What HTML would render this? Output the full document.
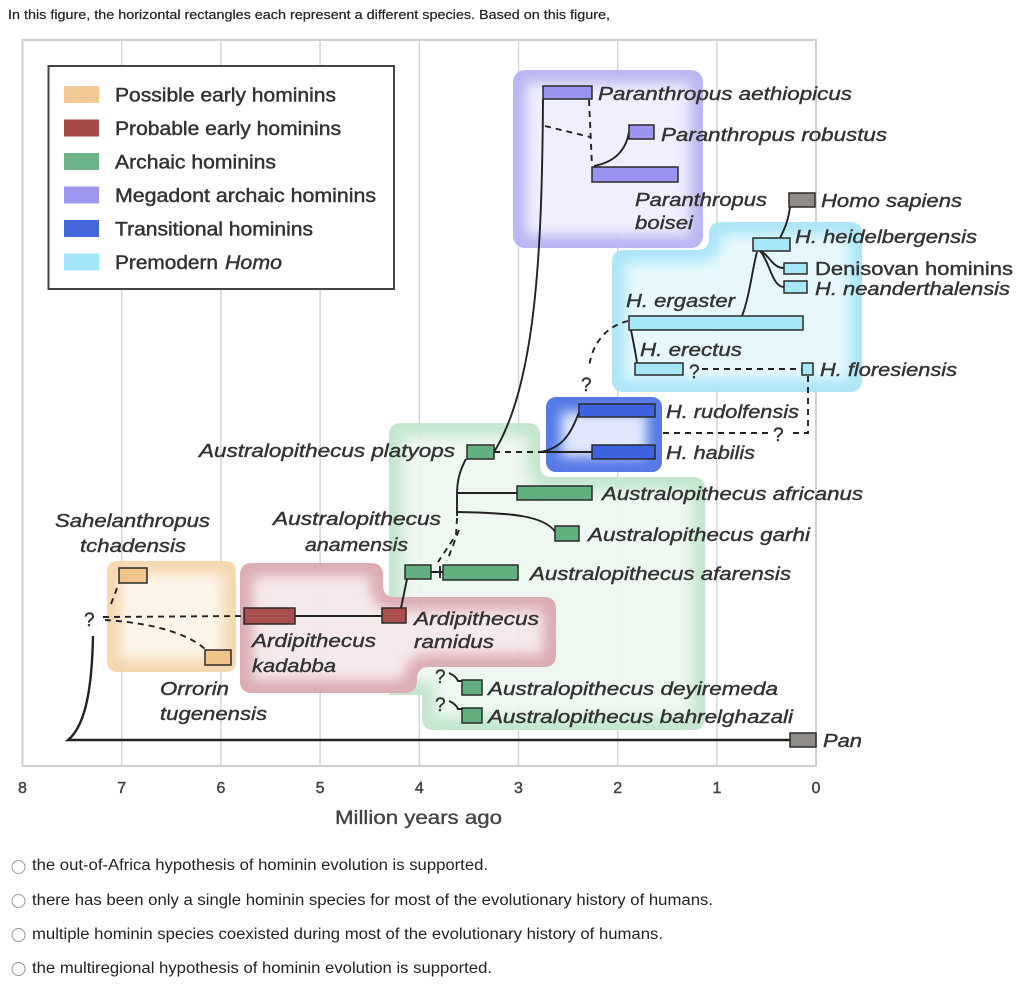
<!DOCTYPE html>
<html><head><meta charset="utf-8"><style>
html,body{margin:0;padding:0;background:#fff;}
svg{display:block;}
text{font-family:"Liberation Sans",Arial,sans-serif;}
</style></head><body>
<svg width="1024" height="985" viewBox="0 0 1024 985" xmlns="http://www.w3.org/2000/svg">
<defs>
<filter id="b" x="-30%" y="-30%" width="160%" height="160%"><feGaussianBlur stdDeviation="6"/></filter>
<clipPath id="cPu"><rect x="513" y="70" width="190" height="178" rx="12"/></clipPath>
<clipPath id="cCy"><path d="M721,222 L850,222 Q862,222 862,234 L862,380 Q862,392 850,392 L624,392 Q612,392 612,380 L612,262 Q612,250 624,250 L697,250 Q709,250 709,238 L709,234 Q709,222 721,222 Z"/></clipPath>
<clipPath id="cGr"><path d="M401,423 L528,423 Q540,423 540,435 L540,465 Q540,477 552,477 L693,477 Q705,477 705,489 L705,718 Q705,730 693,730 L434,730 Q422,730 422,718 L422,695 L389,695 L389,435 Q389,423 401,423 Z"/></clipPath>
<clipPath id="cRe"><path d="M252,563 L371,563 Q383,563 383,575 L383,585 Q383,597 395,597 L544,597 Q556,597 556,609 L556,655 Q556,667 544,667 L429,667 Q417,667 417,679 L417,681 Q417,693 405,693 L252,693 Q240,693 240,681 L240,575 Q240,563 252,563 Z"/></clipPath>
<clipPath id="cOr"><rect x="107" y="561" width="129" height="111" rx="10"/></clipPath>
<clipPath id="cBl"><rect x="546" y="397" width="116" height="75" rx="10"/></clipPath>
</defs>

<!-- title -->
<text x="8" y="19" font-size="13" fill="#222" stroke="#222" stroke-width="0.2" textLength="602" lengthAdjust="spacingAndGlyphs">In this figure, the horizontal rectangles each represent a different species.  Based on this figure,</text>

<!-- grid frame -->
<g stroke="#d6d6d6" stroke-width="1.5" fill="none">
<line x1="121.7" y1="40" x2="121.7" y2="766"/>
<line x1="220.9" y1="40" x2="220.9" y2="766"/>
<line x1="320.1" y1="40" x2="320.1" y2="766"/>
<line x1="419.3" y1="40" x2="419.3" y2="766"/>
<line x1="518.5" y1="40" x2="518.5" y2="766"/>
<line x1="617.7" y1="40" x2="617.7" y2="766"/>
<line x1="716.9" y1="40" x2="716.9" y2="766"/>
</g>
<rect x="22.5" y="40" width="793.5" height="726" fill="none" stroke="#cfcfcf" stroke-width="2"/>

<!-- legend -->
<rect x="48.5" y="66" width="345.5" height="223" fill="#fff" stroke="#444" stroke-width="2"/>
<rect x="64" y="86" width="35" height="17" fill="#f2c995"/>
<rect x="64" y="119.5" width="35" height="17" fill="#a64a4a"/>
<rect x="64" y="153" width="35" height="17" fill="#6cb487"/>
<rect x="64" y="186.5" width="35" height="17" fill="#9d97f0"/>
<rect x="64" y="220" width="35" height="17" fill="#4466dd"/>
<rect x="64" y="253.5" width="35" height="17" fill="#a3e6fa"/>
<g font-size="19" fill="#333" stroke="#333" stroke-width="0.45">
<text x="115" y="101.5" textLength="221" lengthAdjust="spacingAndGlyphs">Possible early hominins</text>
<text x="115" y="135" textLength="226" lengthAdjust="spacingAndGlyphs">Probable early hominins</text>
<text x="115" y="168.5" textLength="161" lengthAdjust="spacingAndGlyphs">Archaic hominins</text>
<text x="115" y="202" textLength="261" lengthAdjust="spacingAndGlyphs">Megadont archaic hominins</text>
<text x="115" y="235.5" textLength="198" lengthAdjust="spacingAndGlyphs">Transitional hominins</text>
<text x="115" y="269" textLength="103" lengthAdjust="spacingAndGlyphs">Premodern</text>
<text x="225" y="269" font-style="italic" textLength="57" lengthAdjust="spacingAndGlyphs">Homo</text>
</g>

<!-- group boxes -->
<g opacity="0.93">
<g clip-path="url(#cPu)"><rect x="513" y="70" width="190" height="178" fill="#efeefd"/><rect x="513" y="70" width="190" height="178" rx="12" fill="none" stroke="#b5b0f2" stroke-width="26" filter="url(#b)"/></g>
<g clip-path="url(#cCy)"><rect x="600" y="210" width="280" height="200" fill="#e6f8fd"/><path d="M721,222 L850,222 Q862,222 862,234 L862,380 Q862,392 850,392 L624,392 Q612,392 612,380 L612,262 Q612,250 624,250 L697,250 Q709,250 709,238 L709,234 Q709,222 721,222 Z" fill="none" stroke="#a6e5f8" stroke-width="26" filter="url(#b)"/></g>
<g clip-path="url(#cGr)"><rect x="380" y="410" width="340" height="330" fill="#edf8f0"/><path d="M401,423 L528,423 Q540,423 540,435 L540,465 Q540,477 552,477 L693,477 Q705,477 705,489 L705,718 Q705,730 693,730 L434,730 Q422,730 422,718 L422,695 L389,695 L389,435 Q389,423 401,423 Z" fill="none" stroke="#c0e5cb" stroke-width="26" filter="url(#b)"/></g>
<g clip-path="url(#cRe)"><rect x="230" y="550" width="340" height="160" fill="#f6e8ea"/><path d="M252,563 L371,563 Q383,563 383,575 L383,585 Q383,597 395,597 L544,597 Q556,597 556,609 L556,655 Q556,667 544,667 L429,667 Q417,667 417,679 L417,681 Q417,693 405,693 L252,693 Q240,693 240,681 L240,575 Q240,563 252,563 Z" fill="none" stroke="#d9a6ae" stroke-width="26" filter="url(#b)"/></g>
<g clip-path="url(#cOr)"><rect x="107" y="561" width="129" height="111" fill="#fdf4e8"/><rect x="107" y="561" width="129" height="111" rx="10" fill="none" stroke="#f4d5aa" stroke-width="26" filter="url(#b)"/></g>
<g clip-path="url(#cBl)"><rect x="546" y="397" width="116" height="75" fill="#dfe7fc"/><rect x="546" y="397" width="116" height="75" rx="10" fill="none" stroke="#4a70e5" stroke-width="30" filter="url(#b)"/></g>
</g>

<!-- connecting lines -->
<g fill="none" stroke="#222" stroke-width="1.9">
<path d="M543,99 C542,250 536,385 494,452"/>
<path d="M594,166 C615,162 626,150 629,132"/>
<path d="M466,459 C460,470 457,480 457,495 L457,516"/>
<path d="M457,493 L517,493"/>
<path d="M457,512 C510,513 545,515 556,533"/>
<path d="M540,452 L592,452"/>
<path d="M540,452 C565,448 572,430 580,410"/>
<path d="M431,572 L443,572 M440,566 L440,578"/>
<path d="M401,608 L407,579"/>
<path d="M295,616 L382,616"/>
<path d="M93,636 C92,690 85,726 68,740 L790,740" stroke-width="2.4"/>
<path d="M449,673 Q456,676 458,681 L462,681"/>
<path d="M449,701 Q456,704 458,709 L462,709"/>
<path d="M742,316 C750,295 752,270 757,252"/>
<path d="M760,251 C770,255 772,268 784,268"/>
<path d="M760,251 C770,262 772,287 784,287"/>
<path d="M790,207 C788,222 784,230 780,238"/>
<path d="M631,330 C634,345 636,355 637,363"/>
</g>
<g fill="none" stroke="#222" stroke-width="1.9" stroke-dasharray="6,5">
<path d="M545,126 L590,137"/>
<path d="M589,100 L592,166"/>
<path d="M494,452 L540,452"/>
<path d="M457,518 L456,535 L438,562"/>
<path d="M459,530 L447,561"/>
<path d="M103,617 L244,616"/>
<path d="M105,620 C140,622 185,630 206,650"/>
<path d="M111,604 L119,583"/>
<path d="M628,321 C610,325 592,340 589,368"/>
<path d="M702,369 L802,369"/>
<path d="M808,376 L808,433 L788,433"/>
<path d="M663,433 L772,433"/>
</g>

<!-- species bars -->
<g stroke="#2a2a2a" stroke-width="1.5">
<rect x="119" y="568" width="28" height="15" fill="#f0c48a"/>
<rect x="205" y="650" width="26" height="15" fill="#f0c48a"/>
<rect x="244" y="608" width="51" height="16" fill="#a94f4f"/>
<rect x="382" y="608" width="24" height="15" fill="#a94f4f"/>
<rect x="405" y="565" width="26" height="14" fill="#62b07f"/>
<rect x="443" y="565" width="75" height="15" fill="#62b07f"/>
<rect x="467" y="445" width="27" height="14" fill="#62b07f"/>
<rect x="517" y="486" width="75" height="14" fill="#62b07f"/>
<rect x="555" y="526" width="24" height="15" fill="#62b07f"/>
<rect x="462" y="680" width="20" height="15" fill="#62b07f"/>
<rect x="462" y="708" width="20" height="15" fill="#62b07f"/>
<rect x="543" y="86" width="49" height="13" fill="#9a94f0"/>
<rect x="629" y="125" width="25" height="14" fill="#9a94f0"/>
<rect x="592" y="167" width="86" height="15" fill="#9a94f0"/>
<rect x="579" y="404" width="76" height="13" fill="#3d63e0"/>
<rect x="592" y="445" width="63" height="14" fill="#3d63e0"/>
<rect x="629" y="316" width="174" height="14" fill="#a5e6f7"/>
<rect x="635" y="363" width="48" height="12" fill="#a5e6f7"/>
<rect x="802" y="363" width="11" height="12" fill="#a5e6f7"/>
<rect x="753" y="238" width="37" height="13" fill="#a5e6f7"/>
<rect x="784" y="263" width="23" height="11" fill="#a5e6f7"/>
<rect x="784" y="281" width="23" height="12" fill="#a5e6f7"/>
<rect x="789" y="193" width="26" height="14" fill="#908d88"/>
<rect x="790" y="733" width="26" height="14" fill="#908d88"/>
</g>

<!-- species labels -->
<g font-size="18.5" fill="#333" stroke="#333" stroke-width="0.4" font-style="italic">
<text x="598" y="100" textLength="254" lengthAdjust="spacingAndGlyphs">Paranthropus aethiopicus</text>
<text x="661" y="141" textLength="226" lengthAdjust="spacingAndGlyphs">Paranthropus robustus</text>
<text x="635" y="206" textLength="132" lengthAdjust="spacingAndGlyphs">Paranthropus</text>
<text x="635" y="229" textLength="58" lengthAdjust="spacingAndGlyphs">boisei</text>
<text x="821" y="207" textLength="141" lengthAdjust="spacingAndGlyphs">Homo sapiens</text>
<text x="795" y="243" textLength="182" lengthAdjust="spacingAndGlyphs">H. heidelbergensis</text>
<text x="815" y="275" font-style="normal" textLength="198" lengthAdjust="spacingAndGlyphs">Denisovan hominins</text>
<text x="815" y="295" textLength="195" lengthAdjust="spacingAndGlyphs">H. neanderthalensis</text>
<text x="626" y="307" textLength="109" lengthAdjust="spacingAndGlyphs">H. ergaster</text>
<text x="640" y="356" textLength="102" lengthAdjust="spacingAndGlyphs">H. erectus</text>
<text x="820" y="376" textLength="137" lengthAdjust="spacingAndGlyphs">H. floresiensis</text>
<text x="666" y="418" textLength="133" lengthAdjust="spacingAndGlyphs">H. rudolfensis</text>
<text x="666" y="459" textLength="89" lengthAdjust="spacingAndGlyphs">H. habilis</text>
<text x="199" y="457" textLength="256" lengthAdjust="spacingAndGlyphs">Australopithecus platyops</text>
<text x="602" y="500" textLength="261" lengthAdjust="spacingAndGlyphs">Australopithecus africanus</text>
<text x="588" y="541" textLength="222" lengthAdjust="spacingAndGlyphs">Australopithecus garhi</text>
<text x="530" y="580" textLength="261" lengthAdjust="spacingAndGlyphs">Australopithecus afarensis</text>
<text x="55" y="527" textLength="155" lengthAdjust="spacingAndGlyphs">Sahelanthropus</text>
<text x="80" y="552" textLength="106" lengthAdjust="spacingAndGlyphs">tchadensis</text>
<text x="273" y="525" textLength="168" lengthAdjust="spacingAndGlyphs">Australopithecus</text>
<text x="305" y="551" textLength="103" lengthAdjust="spacingAndGlyphs">anamensis</text>
<text x="414" y="625" textLength="125" lengthAdjust="spacingAndGlyphs">Ardipithecus</text>
<text x="414" y="648" textLength="80" lengthAdjust="spacingAndGlyphs">ramidus</text>
<text x="252" y="647" textLength="124" lengthAdjust="spacingAndGlyphs">Ardipithecus</text>
<text x="252" y="672" textLength="84" lengthAdjust="spacingAndGlyphs">kadabba</text>
<text x="160" y="695" textLength="69" lengthAdjust="spacingAndGlyphs">Orrorin</text>
<text x="160" y="720" textLength="107" lengthAdjust="spacingAndGlyphs">tugenensis</text>
<text x="488" y="695" textLength="290" lengthAdjust="spacingAndGlyphs">Australopithecus deyiremeda</text>
<text x="488" y="723" textLength="305" lengthAdjust="spacingAndGlyphs">Australopithecus bahrelghazali</text>
<text x="823" y="747" textLength="39" lengthAdjust="spacingAndGlyphs">Pan</text>
</g>
<g font-size="19" fill="#333" stroke="#333" stroke-width="0.4">
<text x="84" y="626">?</text>
<text x="581" y="391">?</text>
<text x="689" y="378">?</text>
<text x="773" y="441">?</text>
<text x="435" y="683">?</text>
<text x="435" y="711">?</text>
</g>

<!-- axis -->
<g font-size="16" fill="#444" stroke="#444" stroke-width="0.45" text-anchor="middle">
<text x="22.5" y="793">8</text>
<text x="121.7" y="793">7</text>
<text x="220.9" y="793">6</text>
<text x="320.1" y="793">5</text>
<text x="419.3" y="793">4</text>
<text x="518.5" y="793">3</text>
<text x="617.7" y="793">2</text>
<text x="716.9" y="793">1</text>
<text x="816" y="793">0</text>
</g>
<text x="335" y="824" font-size="19" fill="#444" stroke="#444" stroke-width="0.35" textLength="167" lengthAdjust="spacingAndGlyphs">Million years ago</text>

<!-- answers -->
<g fill="#fff" stroke="#9a9a9a" stroke-width="1">
<circle cx="18.5" cy="867" r="6.5"/>
<circle cx="18.5" cy="901" r="6.5"/>
<circle cx="18.5" cy="935" r="6.5"/>
<circle cx="18.5" cy="969" r="6.5"/>
</g>
<g font-size="15.5" fill="#222">
<text x="32" y="870" textLength="456" lengthAdjust="spacingAndGlyphs">the out-of-Africa hypothesis of hominin evolution is supported.</text>
<text x="32" y="905" textLength="681" lengthAdjust="spacingAndGlyphs">there has been only a single hominin species for most of the evolutionary history of humans.</text>
<text x="32" y="939" textLength="631" lengthAdjust="spacingAndGlyphs">multiple hominin species coexisted during most of the evolutionary history of humans.</text>
<text x="32" y="973" textLength="460" lengthAdjust="spacingAndGlyphs">the multiregional hypothesis of hominin evolution is supported.</text>
</g>
</svg>
</body></html>
